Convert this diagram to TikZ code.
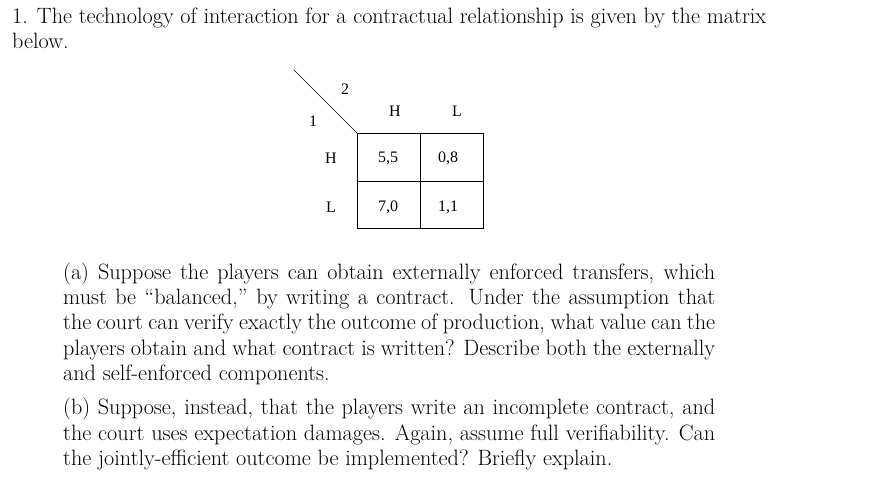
\documentclass[tikz,border=0pt]{standalone}
\usepackage{fontspec}
\newfontfamily\tms{Liberation Serif}
\begin{document}
\begin{tikzpicture}[x=1pt,y=-1pt,
  ln/.style={anchor=base west,inner sep=0pt,font=\fontsize{22.2}{26}\selectfont},
  mt/.style={inner sep=0pt,font=\tms\fontsize{16}{19}\selectfont}]
\useasboundingbox (0,0) rectangle (878,489);
\node[ln] (l1) at (12,24) {\makebox[754pt][s]{1. The technology of interaction for a contractual relationship is given by the matrix}};
\node[ln] (l2) at (12,49) {below.};
% matrix
\draw[thick] (357,133) rectangle (483,228);
\draw[thick] (420,133) -- (420,228);
\draw[thick] (357,181) -- (483,181);
\coordinate (d1) at (294,70);
\coordinate (d2) at (357,133);
\draw (d1) -- (d2);
\node[mt] (p2) at (345,89) {2};
\node[mt] (p1) at (313,121) {1};
\node[mt] (cH) at (395,111) {H};
\node[mt] (cL) at (457,111) {L};
\node[mt] (rH) at (331,158) {H};
\node[mt] (rL) at (331,207) {L};
\node[mt] (a11) at (388,158) {5,5};
\node[mt] (a12) at (448,158) {0,8};
\node[mt] (a21) at (388,207) {7,0};
\node[mt] (a22) at (448,207) {1,1};
% (a)
\node[ln] (a1) at (63,279) {\makebox[652pt][s]{(a) Suppose the players can obtain externally enforced transfers, which}};
\node[ln] (a2) at (63,304) {\makebox[652pt][s]{must be ``balanced,'' by writing a contract. Under the assumption that}};
\node[ln] (a3) at (63,329) {\makebox[652pt][s]{the court can verify exactly the outcome of production, what value can the}};
\node[ln] (a4) at (63,355) {\makebox[652pt][s]{players obtain and what contract is written? Describe both the externally}};
\node[ln] (a5) at (63,380) {and self-enforced components.};
% (b)
\node[ln] (b1) at (63,414) {\makebox[652pt][s]{(b) Suppose, instead, that the players write an incomplete contract, and}};
\node[ln] (b2) at (63,440) {\makebox[652pt][s]{the court uses expectation damages. Again, assume full verifiability. Can}};
\node[ln] (b3) at (63,465) {the jointly-efficient outcome be implemented? Briefly explain.};
\end{tikzpicture}
\end{document}
